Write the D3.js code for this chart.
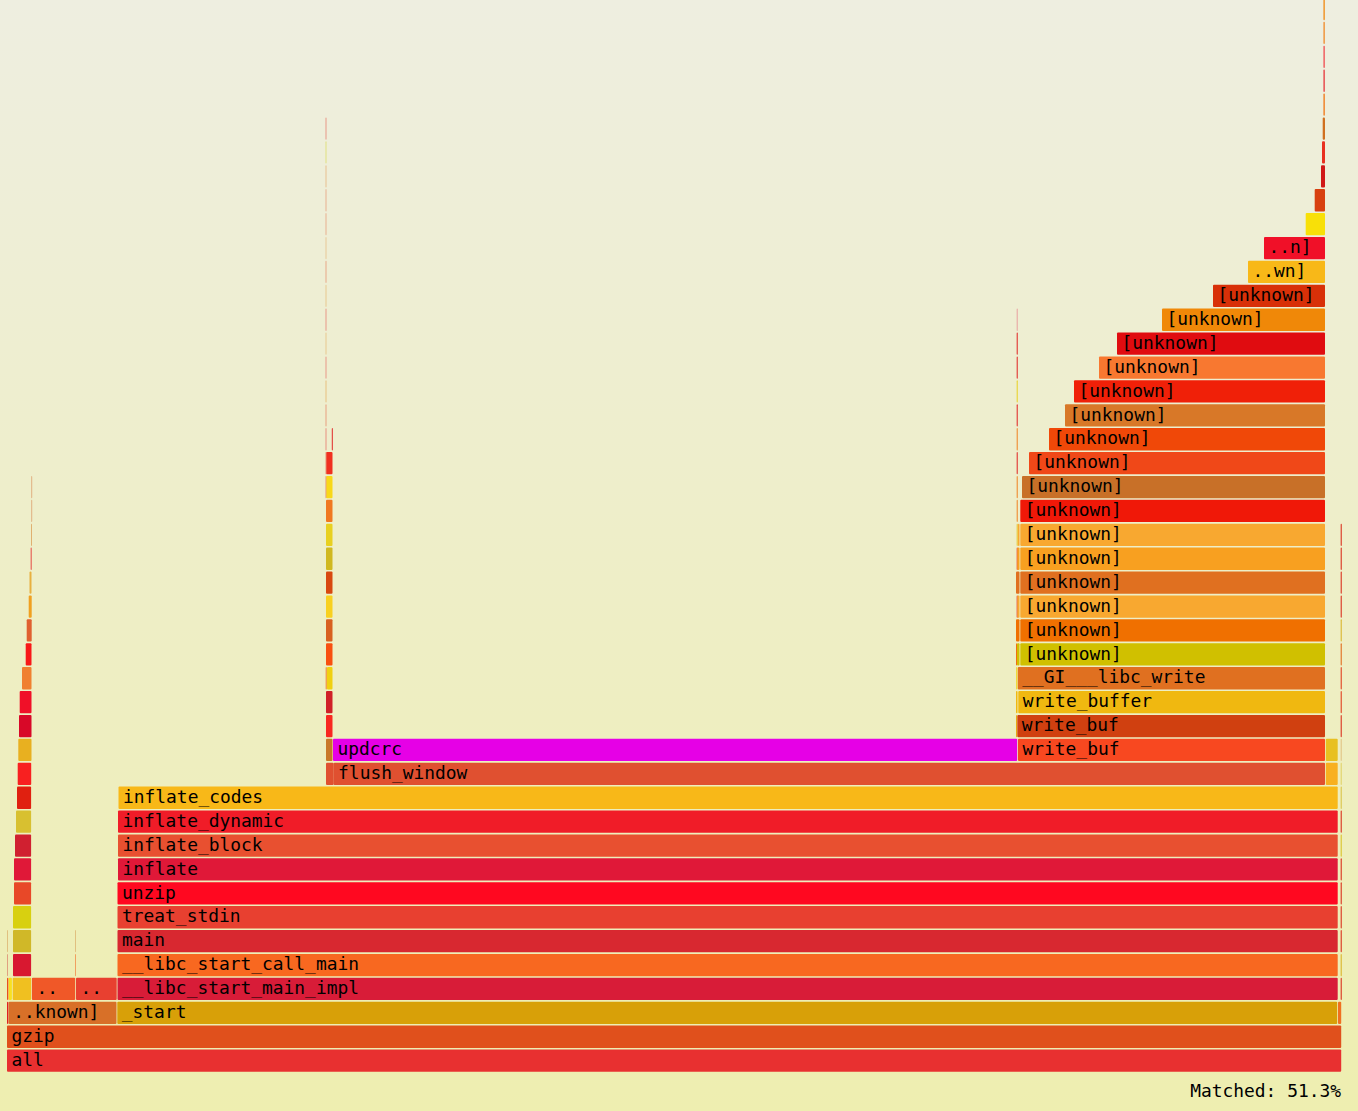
<!DOCTYPE html>
<html>
<head>
<meta charset="utf-8">
<script src="https://cdn.jsdelivr.net/npm/d3@7"></script>
<style>
  html, body { margin: 0; padding: 0; background: #eeeeb0; }
  svg { display: block; }
  text { font-family: "DejaVu Sans Mono", monospace; }
</style>
</head>
<body>
<svg id="chart" width="1358" height="1111"></svg>
<script>
// total samples across the "all" frame
const totalSamples = 1335;
const searchTerm = 'updcrc';

// main stack: [depth, name, start, end] in samples
const mainFrames = [
    [0, 'all', 0, 1335],
    [1, 'gzip', 0, 1335],
    [2, '[unknown]', 0, 1.7],
    [2, '[unknown]', 1.7, 110.3],
    [2, '_start', 110.3, 1331],
    [2, '[unknown]', 1331, 1335],
    [3, '[unknown]', 0, 1.7],
    [3, '[unknown]', 1.7, 5.7],
    [3, '[unknown]', 5.7, 24.9],
    [3, '[unknown]', 24.9, 69],
    [3, '[unknown]', 69, 110.5],
    [3, '__libc_start_main_impl', 110.5, 1331.5],
    [4, '[unknown]', 0, 0.8],
    [4, '[unknown]', 68, 69],
    [5, '[unknown]', 0, 0.8],
    [5, '[unknown]', 68, 68.8],
    [4, '__libc_start_call_main', 110.5, 1331.5],
    [5, 'main', 110.5, 1331.5],
    [6, 'treat_stdin', 110.5, 1331.5],
    [7, 'unzip', 110.5, 1331.5],
    [8, 'inflate', 111, 1331.5],
    [9, 'inflate_block', 111, 1331.5],
    [10, 'inflate_dynamic', 111, 1331.5],
    [11, 'inflate_codes', 111.5, 1331.5],
    [12, '[unknown]', 319, 327.5],
    [12, 'flush_window', 326.6, 1318.8],
    [12, '[unknown]', 1318.8, 1331.5],
    [13, '[unknown]', 319, 326.3],
    [13, 'updcrc', 326, 1011],
    [13, 'write_buf', 1011, 1318.8],
    [13, '[unknown]', 1318.8, 1331.5]
];
const mainColors = [
    '#e83030', '#e0501c', '#e02020', '#d87028', '#d8a008', '#f07020',
    '#e85020', '#f8e020', '#f0c020', '#f05828', '#e84030', '#d81c38',
    '#e0a080', '#f0a060', '#e0c080', '#e0c080',
    '#f86820', '#d82830', '#e84030', '#ff0820', '#e01838', '#e85030',
    '#f01c28', '#f8b818', '#e05030', '#e05030', '#f8b020',
    '#c87828', '#e600e6', '#f84820', '#e8c020'
];

// left tower above the "[unknown]" frame, depths 4..24: [start, end]
const leftTowerBase = 4;
const leftTower = [
    [6, 24.9], [6, 24.9], [6, 24.9], [7, 24.9], [7, 24.9], [8, 24.9],
    [9, 24.9], [10, 24.9], [10.7, 25], [11.3, 25.3], [12, 25.3], [12.7, 25.3],
    [15, 25.3], [18.7, 25.3], [19.7, 25.5], [21.7, 25.5], [22.5, 25.3],
    [23.5, 25.3], [24, 25.2], [24.2, 25.2], [24.2, 25.2]
];
const leftColors = [
    '#d81830', '#d0b828', '#d8d010', '#e84828', '#e01838', '#d02030',
    '#d8c030', '#e02010', '#f82020', '#e8b020', '#d80828', '#f01028',
    '#f08030', '#f81818', '#e06030', '#f0a020', '#e8b040',
    '#e88070', '#e0b070', '#e0b080', '#e0b080'
];

// tower over the left edge of updcrc: [depth, start, end]
const midFrames = [
    [14, 319, 326.3], [15, 319, 326.3], [16, 320, 326.3], [16, 318.7, 320],
    [17, 319, 326.3], [18, 319, 326.3], [19, 319, 326.3], [20, 319, 326.3],
    [21, 319, 326.3], [22, 319, 326.3], [23, 319, 326.3], [24, 319, 326.3],
    [24, 318.4, 319], [25, 319, 326.3], [25, 318.4, 319],
    [26, 318.5, 319.3], [26, 324.8, 325.6],
    [27, 318.5, 319.3], [28, 318.5, 319.3], [29, 318.5, 319.3], [30, 318.5, 319.3],
    [31, 318.5, 319.3], [32, 318.5, 319.3], [33, 318.5, 319.3], [34, 318.5, 319.3],
    [35, 318.5, 319.3], [36, 318.5, 319.3], [37, 318.5, 319.3], [38, 318.5, 319.3],
    [39, 318.5, 319.3]
];
const midColors = [
    '#f82820', '#d02028', '#f0d010', '#f08020',
    '#f85010', '#d86020', '#f8d020', '#d84810',
    '#d0b820', '#e8d020', '#f07820', '#f8d818',
    '#e8a080', '#f03020', '#e8a080',
    '#e89080', '#e02828',
    '#e8a080', '#e8c080', '#e89888', '#e8c890', '#e89888', '#e8c890', '#e8a888',
    '#e8c898', '#e8b090', '#e8b090', '#e8c090', '#e0e080', '#e89888'
];

// write path on the right: [depth, name, start, end]
const rightFrames = [
    [14, '[unknown]', 1009, 1010.3], [14, 'write_buf', 1010.3, 1318.8],
    [15, '[unknown]', 1009, 1011.3], [15, 'write_buffer', 1011.3, 1318.8],
    [16, '[unknown]', 1009.3, 1010.1], [16, '__GI___libc_write', 1010.8, 1318.8],
    [17, '[unknown]', 1009, 1010], [17, '[unknown]', 1010, 1013.3], [17, '[unknown]', 1013.3, 1318.8],
    [18, '[unknown]', 1009, 1013.3], [18, '[unknown]', 1013.3, 1318.8],
    [19, '[unknown]', 1009.7, 1010.3], [19, '[unknown]', 1010.3, 1013.3], [19, '[unknown]', 1013.3, 1318.8],
    [20, '[unknown]', 1009, 1013.3], [20, '[unknown]', 1013.3, 1318.8],
    [21, '[unknown]', 1009.7, 1010.3], [21, '[unknown]', 1010.3, 1013.3], [21, '[unknown]', 1013.3, 1318.8],
    [22, '[unknown]', 1009.7, 1010.4], [22, '[unknown]', 1011, 1013.3], [22, '[unknown]', 1013.3, 1318.8],
    [23, '[unknown]', 1009.7, 1010.4], [23, '[unknown]', 1013.3, 1318.8],
    [24, '[unknown]', 1009.7, 1010.4], [24, '[unknown]', 1015, 1318.8],
    [25, '[unknown]', 1009.7, 1010.4], [25, '[unknown]', 1022, 1318.8],
    [26, '[unknown]', 1009.7, 1010.4], [26, '[unknown]', 1042, 1318.8],
    [27, '[unknown]', 1009.7, 1010.4], [27, '[unknown]', 1058, 1318.8],
    [28, '[unknown]', 1009.7, 1010.4], [28, '[unknown]', 1067, 1318.8],
    [29, '[unknown]', 1009.7, 1010.4], [29, '[unknown]', 1092, 1318.8],
    [30, '[unknown]', 1009.7, 1010.4], [30, '[unknown]', 1110, 1318.8],
    [31, '[unknown]', 1009.7, 1010.4], [31, '[unknown]', 1155, 1318.8],
    [32, '[unknown]', 1206, 1318.8],
    [33, '[unknown]', 1241, 1318.8],
    [34, '[unknown]', 1257, 1318.8],
    [35, '[unknown]', 1298.7, 1318.8],
    [36, '[unknown]', 1307.7, 1318.8],
    [37, '[unknown]', 1314, 1318.8],
    [38, '[unknown]', 1315, 1318.8],
    [39, '[unknown]', 1315.7, 1318.8],
    [40, '[unknown]', 1316.3, 1318.8],
    [41, '[unknown]', 1316.3, 1318.8],
    [42, '[unknown]', 1316.3, 1318.8],
    [43, '[unknown]', 1316.3, 1318.8],
    [44, '[unknown]', 1316.3, 1318.8]
];
const rightColors = [
    '#e8a810', '#d04010',
    '#f0b810', '#f0b810',
    '#f0d000', '#e07020',
    '#f07010', '#d0c000', '#d0c000',
    '#f07000', '#f07000',
    '#e02020', '#f8a830', '#f8a830',
    '#e07020', '#e07020',
    '#e83020', '#f8a020', '#f8a020',
    '#e8c020', '#f8a830', '#f8a830',
    '#f08020', '#f01808',
    '#f08020', '#c87028',
    '#e02020', '#f04818',
    '#f08020', '#f04808',
    '#e02020', '#d87828',
    '#e8d020', '#f02008',
    '#e02020', '#f87830',
    '#e02020', '#e00c10',
    '#e8a0a0', '#f08808',
    '#d83008',
    '#f8b818',
    '#f01028',
    '#f8e008',
    '#d84010',
    '#d01818',
    '#e83020',
    '#d07020',
    '#f09040',
    '#e86060',
    '#f07070',
    '#f0a050',
    '#f0a040'
];

// thin column at the far right, depths 3..22
const edgeTowerBase = 3;
const edgeTowerSpan = [1333.7, 1335];
const edgeColors = [
    '#d82010', '#d8b020', '#d82010', '#d82010', '#d82010', '#d82010',
    '#d8c020', '#d82010', '#d8c040', '#e0d060', '#e0c080', '#d82010',
    '#e03010', '#e03010', '#e06010', '#d8b020', '#d82010', '#d82010',
    '#d82010', '#d82010'
];

const width = 1358;
const height = 1111;
const rowPitch = 23.9;
const frameHeight = 22.3;
const fontSize = 17.9;
const charWidth = fontSize * 0.6;

const svg = d3.select('#chart');

// background gradient like flamegraph
const defs = svg.append('defs');
const grad = defs.append('linearGradient')
    .attr('id', 'background')
    .attr('x1', 0).attr('y1', 0).attr('x2', 0).attr('y2', 1);
grad.append('stop').attr('offset', '0%').attr('stop-color', '#eeeee0');
grad.append('stop').attr('offset', '100%').attr('stop-color', '#eeeeb0');
svg.append('rect')
    .attr('width', width).attr('height', height)
    .attr('fill', 'url(#background)');

const x = d3.scaleLinear().domain([0, totalSamples]).range([7, 1342]);
const y = d3.scaleLinear().domain([0, 1]).range([1049.5, 1049.5 - rowPitch]);

// flatten every group into one list of frames
const frames = [];
mainFrames.forEach((f, i) => frames.push({ depth: f[0], name: f[1], start: f[2], end: f[3], color: mainColors[i] }));
leftTower.forEach((f, i) => frames.push({ depth: leftTowerBase + i, name: '[unknown]', start: f[0], end: f[1], color: leftColors[i] }));
midFrames.forEach((f, i) => frames.push({ depth: f[0], name: '[unknown]', start: f[1], end: f[2], color: midColors[i] }));
rightFrames.forEach((f, i) => frames.push({ depth: f[0], name: f[1], start: f[2], end: f[3], color: rightColors[i] }));
edgeColors.forEach((c, i) => frames.push({ depth: edgeTowerBase + i, name: '[unknown]', start: edgeTowerSpan[0], end: edgeTowerSpan[1], color: c }));

// left-truncated label, the way inferno does it
function label(name, w) {
    const room = w - 14;
    if (room < 2 * charWidth) return '';
    if (name.length * charWidth < room) return name;
    const keep = Math.floor(room / charWidth) - 2;
    return '..' + name.substring(name.length - keep);
}

const g = svg.append('g').attr('id', 'frames');
const cells = g.selectAll('g')
    .data(frames)
    .join('g');

cells.append('rect')
    .attr('x', d => x(d.start))
    .attr('y', d => y(d.depth))
    .attr('width', d => {
        const w = x(d.end) - x(d.start);
        return w > 2 ? w - 0.8 : Math.max(w - 0.3, 1.0);
    })
    .attr('height', frameHeight)
    .attr('rx', 1)
    .attr('fill', d => d.color);

cells.append('text')
    .attr('x', d => x(d.start) + 4.5)
    .attr('y', d => y(d.depth) + 16.3)
    .attr('font-size', fontSize)
    .attr('fill', '#000')
    .text(d => label(d.name, x(d.end) - x(d.start)));

// search match summary
const matched = d3.sum(frames.filter(d => d.name === searchTerm), d => d.end - d.start);
svg.append('text')
    .attr('x', 1341)
    .attr('y', 1097)
    .attr('text-anchor', 'end')
    .attr('font-size', fontSize)
    .attr('fill', '#000')
    .text('Matched: ' + (matched / totalSamples * 100).toFixed(1) + '%');
</script>
</body>
</html>
